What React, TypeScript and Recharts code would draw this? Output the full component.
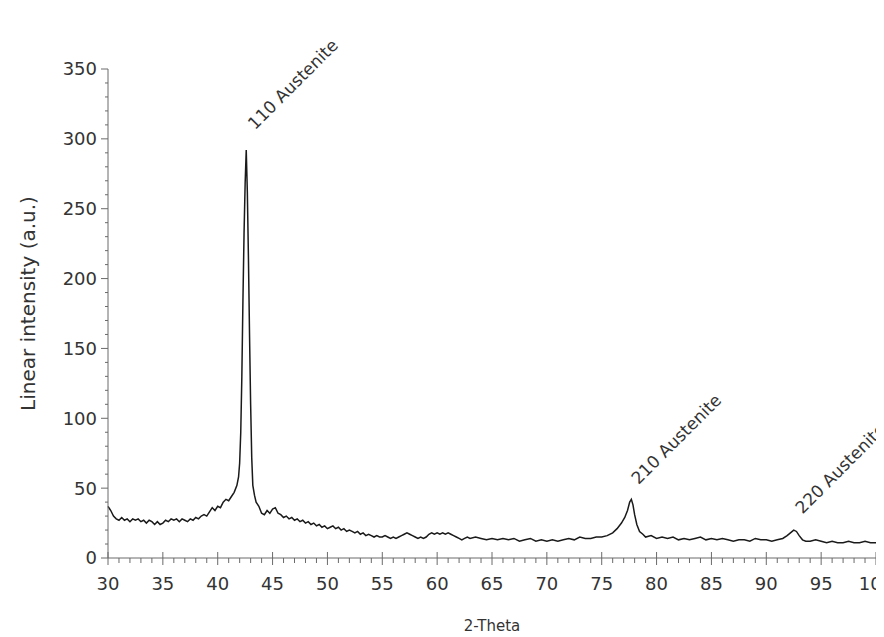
import React from "react"
import { LineChart, Line, XAxis, YAxis, ReferenceDot, Label } from "recharts"

// 2-theta (deg), linear intensity (a.u.)
const lowAngleScan: [number, number][] = [
  [30, 37], [30.25, 34], [30.5, 30], [30.75, 28], [31, 27], [31.25, 29], [31.5, 27], [31.75, 28],
  [32, 26], [32.25, 28], [32.5, 27], [32.75, 28], [33, 26], [33.25, 27], [33.5, 25], [33.75, 27],
  [34, 26], [34.25, 24], [34.5, 26], [34.75, 24], [35, 25], [35.25, 27], [35.5, 26], [35.75, 28],
  [36, 27], [36.25, 28], [36.5, 26], [36.75, 28], [37, 27], [37.25, 26], [37.5, 28], [37.75, 27],
  [38, 29], [38.25, 28], [38.5, 30], [38.75, 31], [39, 30], [39.25, 33], [39.5, 36], [39.75, 34],
  [40, 37], [40.25, 36], [40.5, 40], [40.75, 42], [41, 41], [41.25, 44], [41.5, 47], [41.75, 52],
]

const peak110: [number, number][] = [
  [41.9, 58], [42, 68], [42.1, 90], [42.2, 130], [42.3, 185], [42.4, 232], [42.5, 268], [42.6, 292],
  [42.7, 262], [42.8, 215], [42.9, 160], [43, 110], [43.1, 72], [43.2, 52], [43.35, 45],
]

const midScan: [number, number][] = [
  [43.5, 40], [43.75, 37], [44, 32], [44.25, 31], [44.5, 34], [44.75, 32], [45, 35], [45.25, 36],
  [45.5, 32], [45.75, 31], [46, 29], [46.25, 30], [46.5, 28], [46.75, 29], [47, 27], [47.25, 28],
  [47.5, 26], [47.75, 27], [48, 25], [48.25, 26], [48.5, 24], [48.75, 25], [49, 23], [49.25, 24],
  [49.5, 22], [49.75, 23], [50, 21], [50.25, 22], [50.5, 23], [50.75, 21], [51, 22], [51.25, 20],
  [51.5, 21], [51.75, 19], [52, 20], [52.25, 19], [52.5, 18], [52.75, 19], [53, 17], [53.25, 18],
  [53.5, 16], [53.75, 17], [54, 16], [54.25, 15], [54.5, 16], [54.75, 15], [55, 15], [55.25, 16],
  [55.5, 15], [55.75, 14], [56, 15], [56.25, 14], [56.5, 15], [56.75, 16], [57, 17], [57.25, 18],
  [57.5, 17], [57.75, 16], [58, 15], [58.25, 14], [58.5, 15], [58.75, 14], [59, 15], [59.25, 17],
  [59.5, 18], [59.75, 17], [60, 18], [60.25, 17], [60.5, 18], [60.75, 17], [61, 18], [61.25, 17],
  [61.5, 16], [61.75, 15], [62, 14], [62.25, 13], [62.5, 14], [62.75, 15], [63, 14], [63.5, 15],
  [64, 14], [64.5, 13], [65, 14], [65.5, 13], [66, 14], [66.5, 13], [67, 14], [67.5, 12],
  [68, 13], [68.5, 14], [69, 12], [69.5, 13], [70, 12], [70.5, 13], [71, 12], [71.5, 13],
  [72, 14], [72.5, 13], [73, 15], [73.5, 14], [74, 14], [74.5, 15], [75, 15], [75.5, 16], [76, 18],
]

const peak210: [number, number][] = [
  [76.4, 21], [76.8, 25], [77.1, 29], [77.35, 34], [77.55, 40], [77.7, 42], [77.85, 38], [78, 31],
  [78.2, 24], [78.45, 19],
]

const highScan: [number, number][] = [
  [78.75, 17], [79, 15], [79.5, 16], [80, 14], [80.5, 15], [81, 14], [81.5, 15], [82, 13],
  [82.5, 14], [83, 13], [83.5, 14], [84, 15], [84.5, 13], [85, 14], [85.5, 13], [86, 14],
  [86.5, 13], [87, 12], [87.5, 13], [88, 13], [88.5, 12], [89, 14], [89.5, 13], [90, 13],
  [90.5, 12], [91, 13], [91.5, 14],
]

const peak220: [number, number][] = [
  [91.9, 16], [92.2, 18], [92.5, 20], [92.75, 19], [93, 16], [93.3, 13],
]

const tailScan: [number, number][] = [
  [93.6, 12], [94, 12], [94.5, 13], [95, 12], [95.5, 11], [96, 12], [96.5, 11], [97, 11],
  [97.5, 12], [98, 11], [98.5, 11], [99, 12], [99.5, 11], [100, 11],
]

const xTicks = Array.from({ length: 71 }, (_, i) => 30 + i)
const yTicks = Array.from({ length: 36 }, (_, i) => i * 10)

const peakLabels = [
  { theta: 43.4, counts: 306, text: "110 Austenite" },
  { theta: 78.35, counts: 52, text: "210 Austenite" },
  { theta: 93.3, counts: 31, text: "220 Austenite" },
]

const data = [...lowAngleScan, ...peak110, ...midScan, ...peak210, ...highScan, ...peak220, ...tailScan].map(
  ([theta, counts]) => ({ theta, counts })
)

const FONT = "DejaVu Sans"
const AXIS = "#6a6a6a"
const INK = "#333"

const XTick = (props: any) => {
  const { x, y, payload } = props
  const v = payload.value
  const major = v % 5 === 0
  return (
    <g>
      <line x1={x} x2={x} y1={major ? y - 6 : y} y2={major ? y + 7 : y + 5} stroke={AXIS} strokeWidth={1} />
      {major && (
        <text x={x} y={y + 32} textAnchor="middle" fontFamily={FONT} fontSize={18} fill={INK}>
          {v}
        </text>
      )}
    </g>
  )
}

const YTick = (props: any) => {
  const { x, y, payload } = props
  const v = payload.value
  const major = v % 50 === 0
  return (
    <g>
      <line x1={major ? x - 7 : x - 3} x2={x} y1={y} y2={y} stroke={AXIS} strokeWidth={1} />
      {major && (
        <text x={x - 11} y={y} dy="0.36em" textAnchor="end" fontFamily={FONT} fontSize={18} fill={INK}>
          {v}
        </text>
      )}
    </g>
  )
}

const PeakText = (text: string) => (props: any) => {
  const { cx, cy } = props
  return (
    <text
      x={cx}
      y={cy}
      transform={`rotate(-45 ${cx} ${cy})`}
      fontFamily={FONT}
      fontSize={17}
      fill={INK}
    >
      {text}
    </text>
  )
}

export default function App() {
  return (
    <div style={{ width: 876, height: 629 }}>
      <LineChart width={876} height={629} data={data} margin={{ top: 61, right: 8, bottom: 0, left: 0 }}>
        <XAxis
          type="number"
          dataKey="theta"
          domain={[30, 100]}
          ticks={xTicks}
          interval={0}
          tick={<XTick />}
          tickLine={false}
          tickSize={0}
          tickMargin={0}
          axisLine={{ stroke: AXIS }}
          height={79}
        >
          <Label
            content={(p: any) => (
              <text
                x={p.viewBox.x + p.viewBox.width / 2}
                y={623}
                textAnchor="middle"
                fontFamily={FONT}
                fontSize={15}
                fill={INK}
              >
                2-Theta
              </text>
            )}
          />
        </XAxis>
        <YAxis
          type="number"
          domain={[0, 350]}
          ticks={yTicks}
          interval={0}
          tick={<YTick />}
          tickLine={false}
          tickSize={0}
          tickMargin={0}
          axisLine={{ stroke: AXIS }}
          width={100}
        >
          <Label
            content={(p: any) => {
              const cy = p.viewBox.y + p.viewBox.height / 2 - 10
              return (
                <text
                  x={27}
                  y={cy}
                  transform={`rotate(-90 27 ${cy})`}
                  textAnchor="middle"
                  fontFamily={FONT}
                  fontSize={20}
                  fill={INK}
                >
                  Linear intensity (a.u.)
                </text>
              )
            }}
          />
        </YAxis>
        <Line
          type="linear"
          dataKey="counts"
          stroke="#1a1a1a"
          strokeWidth={1.5}
          dot={false}
          isAnimationActive={false}
        />
        {peakLabels.map((p) => (
          <ReferenceDot key={p.text} x={p.theta} y={p.counts} r={1} shape={PeakText(p.text)} />
        ))}
      </LineChart>
    </div>
  )
}
